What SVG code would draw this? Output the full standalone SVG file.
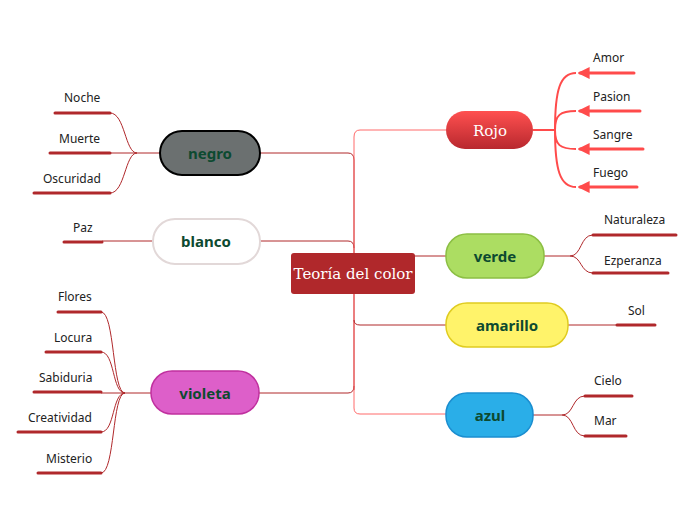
<svg xmlns="http://www.w3.org/2000/svg" width="696" height="520" viewBox="0 0 696 520">
<defs>
<linearGradient id="gr" x1="0" y1="0" x2="0" y2="1"><stop offset="0" stop-color="#ff5050"/><stop offset="1" stop-color="#b8282e"/></linearGradient>
<marker id="ar" viewBox="0 0 10 10" refX="2" refY="5" markerWidth="4" markerHeight="4" orient="auto"><path d="M10,0 L0,5 L10,10 z" fill="#ff4b4b"/></marker>
</defs>
<style>
.b{fill:none;stroke:#b0282b;stroke-width:1}
.u{stroke:#b0282b;stroke-width:3;stroke-linecap:round}
.r{fill:none;stroke:#ff4b4b;stroke-width:2}
.ru{stroke:#ff4b4b;stroke-width:3;stroke-linecap:round}
.lt{font-family:"Noto Sans",sans-serif;font-size:12px;fill:#222}
.nt{font-family:"Noto Sans",sans-serif;font-size:15px;font-weight:bold;fill:#0d4a30;text-anchor:middle}
.st{font-family:"DejaVu Serif","Liberation Serif",serif;font-size:15px;fill:#fff;text-anchor:middle}
</style>
<rect width="696" height="520" fill="#fff"/>
<g id="connectors">
<path class="b" d="M260,153 H348 Q354,153 354,160 V390"/>
<path class="b" d="M260,241 H348 Q354,241 354,248"/>
<path class="b" d="M259,393 H348 Q354,393 354,386"/>
<path d="M446,130 H360 Q354,130 354,137 V408 Q354,414 360,414 H446" fill="none" stroke="#ff6a6a" stroke-width="1"/>
<path class="b" d="M354,256 H446 M354,320 Q354,325 360,325 H446"/>
<path class="b" d="M160,153 H137 M137,153 C125,153 125,113 110,113 M137,153 C125,153 125,193 110,193 M137,153 H110"/>
<line class="u" x1="55" y1="113" x2="110" y2="113"/><line class="u" x1="50" y1="153" x2="110" y2="153"/><line class="u" x1="34" y1="193" x2="110" y2="193"/>
<path class="b" d="M153,241 H102"/><line class="u" x1="64" y1="242" x2="102" y2="242"/>
<path class="b" d="M151,393 H125 M125,393 C112,393 115,312 101,312 M125,393 C112,393 115,352 101,352 M125,393 H101 M125,393 C112,393 115,432 101,432 M125,393 C112,393 115,473 101,473"/>
<line class="u" x1="58" y1="312" x2="101" y2="312"/><line class="u" x1="46" y1="352" x2="101" y2="352"/><line class="u" x1="34" y1="392" x2="101" y2="392"/><line class="u" x1="18" y1="432" x2="101" y2="432"/><line class="u" x1="38" y1="473" x2="101" y2="473"/>
<path class="r" d="M533,130 H555 M555,130 C555,90 560,73 576,73 M555,130 C555,115 560,111 576,111 M555,130 C555,145 560,149 576,149 M555,130 C555,170 560,187 576,187"/>
<line class="ru" x1="580" y1="73" x2="634" y2="73" marker-start="url(#ar)"/><line class="ru" x1="580" y1="111" x2="640" y2="111" marker-start="url(#ar)"/><line class="ru" x1="580" y1="149" x2="643" y2="149" marker-start="url(#ar)"/><line class="ru" x1="580" y1="187" x2="637" y2="187" marker-start="url(#ar)"/>
<path class="b" d="M544,256 H570 M570,256 C582,256 580,235 593,235 M570,256 C582,256 580,273 593,273"/>
<line class="u" x1="593" y1="235" x2="676" y2="235"/><line class="u" x1="593" y1="273" x2="668" y2="273"/>
<path class="b" d="M568,325 H617"/><line class="u" x1="617" y1="325" x2="655" y2="325"/>
<path class="b" d="M533,415 H562 M562,415 C574,415 572,396 585,396 M562,415 C574,415 572,436 585,436"/>
<line class="u" x1="585" y1="396" x2="632" y2="396"/><line class="u" x1="585" y1="436" x2="626" y2="436"/>
</g>
<g id="center"><rect x="291" y="253" width="124" height="41" rx="3" fill="#b0282b"/><text class="st" x="353" y="279">Teoría del color</text></g>
<g id="negro"><rect x="160" y="131" width="100" height="44" rx="22" fill="#6b7070" stroke="#000" stroke-width="2"/><text class="nt" x="210" y="159">negro</text></g>
<g id="blanco"><rect x="153" y="219" width="107" height="45" rx="22" fill="#fff" stroke="#e2d8d8" stroke-width="2"/><text class="nt" x="206" y="247">blanco</text></g>
<g id="violeta"><rect x="151" y="371" width="108" height="43" rx="21" fill="#dd5fc9" stroke="#c0309f" stroke-width="1.5"/><text class="nt" x="205" y="399">violeta</text></g>
<g id="rojo"><rect x="446" y="111" width="87" height="38" rx="19" fill="url(#gr)"/><text class="st" x="490" y="136">Rojo</text></g>
<g id="verde"><rect x="446" y="234" width="98" height="44" rx="21" fill="#acdd62" stroke="#8cbf44" stroke-width="1.5"/><text class="nt" x="495" y="262">verde</text></g>
<g id="amarillo"><rect x="446" y="303" width="122" height="44" rx="21" fill="#fff36a" stroke="#e0cc20" stroke-width="1.5"/><text class="nt" x="507" y="331">amarillo</text></g>
<g id="azul"><rect x="446" y="393" width="87" height="44" rx="21" fill="#2aaee8" stroke="#1b8ed0" stroke-width="1.5"/><text class="nt" x="490" y="421">azul</text></g>
<g id="leaves">
<text class="lt" x="64" y="102">Noche</text><text class="lt" x="59" y="143">Muerte</text><text class="lt" x="43" y="183">Oscuridad</text><text class="lt" x="73" y="232">Paz</text>
<text class="lt" x="58" y="301">Flores</text><text class="lt" x="54" y="342">Locura</text><text class="lt" x="39" y="382">Sabiduria</text><text class="lt" x="28" y="422">Creatividad</text><text class="lt" x="46" y="463">Misterio</text>
<text class="lt" x="593" y="62">Amor</text><text class="lt" x="593" y="101">Pasion</text><text class="lt" x="593" y="139">Sangre</text><text class="lt" x="593" y="177">Fuego</text>
<text class="lt" x="604" y="224">Naturaleza</text><text class="lt" x="604" y="265">Ezperanza</text><text class="lt" x="628" y="315">Sol</text>
<text class="lt" x="594" y="385">Cielo</text><text class="lt" x="594" y="425">Mar</text>
</g>
</svg>
